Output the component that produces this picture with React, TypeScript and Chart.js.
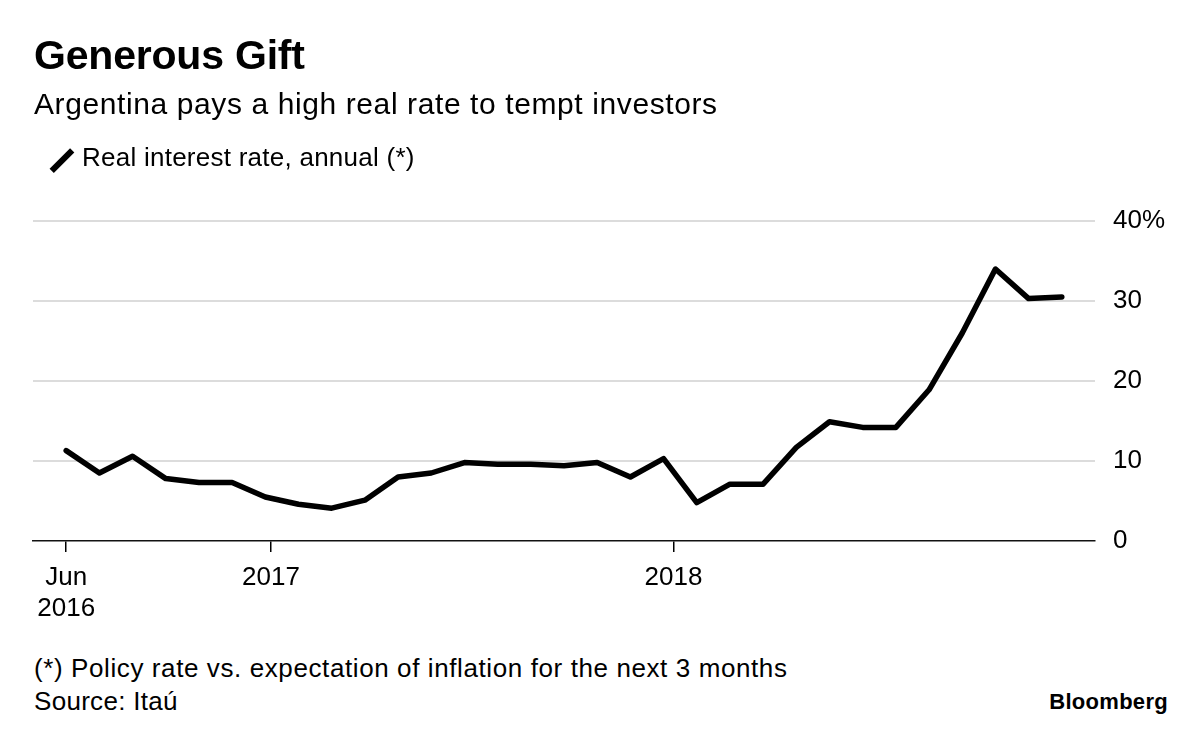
import React, { useEffect, useRef } from "react";
import { Chart, registerables } from "chart.js";

Chart.register(...registerables);

// Monthly observations, Jun 2016 – Dec 2018
const months = [
  "2016-06", "2016-07", "2016-08", "2016-09", "2016-10", "2016-11", "2016-12",
  "2017-01", "2017-02", "2017-03", "2017-04", "2017-05", "2017-06", "2017-07",
  "2017-08", "2017-09", "2017-10", "2017-11", "2017-12", "2018-01", "2018-02",
  "2018-03", "2018-04", "2018-05", "2018-06", "2018-07", "2018-08", "2018-09",
  "2018-10", "2018-11", "2018-12",
];

// Real interest rate, annual (%)
const realRate = [
  11.3, 8.5, 10.6, 7.8, 7.3, 7.3, 5.5, 4.6, 4.1, 5.1, 8.0, 8.5, 9.8, 9.6, 9.6,
  9.4, 9.8, 8.0, 10.3, 4.8, 7.1, 7.1, 11.7, 14.9, 14.2, 14.2, 18.9, 26.0, 34.0,
  30.3, 30.5,
];

// X-axis ticks, in months from the first observation
const xTickPositions = [0, 6.17, 18.3];
const xTickLabels: (string | string[])[] = [["Jun", "2016"], "2017", "2018"];

// Y-axis ticks
const yTicks = [0, 10, 20, 30, 40];
const yTickLabels = ["0", "10", "20", "30", "40%"];

const FONT = "'Liberation Sans', Arial, Helvetica, sans-serif";

function Text(props: {
  x?: number;
  right?: number;
  baseline: number;
  size: number;
  bold?: boolean;
  ls?: number;
  children: React.ReactNode;
}) {
  const { x, right, baseline, size, bold, ls, children } = props;
  const style: React.CSSProperties = {
    position: "absolute",
    top: baseline - 0.8465 * size,
    fontSize: size,
    lineHeight: `${size}px`,
    fontWeight: bold ? 700 : 400,
    letterSpacing: ls ? `${ls}px` : undefined,
    whiteSpace: "nowrap",
    color: "#000",
    fontFamily: FONT,
  };
  if (x !== undefined) style.left = x;
  if (right !== undefined) style.right = right;
  return <div style={style}>{children}</div>;
}

export default function App() {
  const canvasRef = useRef<HTMLCanvasElement | null>(null);

  useEffect(() => {
    if (!canvasRef.current) return;
    const chart = new Chart(canvasRef.current, {
      type: "line",
      data: {
        labels: months,
        datasets: [
          {
            label: "Real interest rate, annual (*)",
            data: realRate.map((y, i) => ({ x: i, y })),
            borderColor: "#000",
            borderWidth: 5.5,
            borderJoinStyle: "round",
            borderCapStyle: "round",
            pointRadius: 0,
            tension: 0,
            fill: false,
          },
        ],
      },
      options: {
        animation: false,
        responsive: true,
        maintainAspectRatio: false,
        layout: { padding: { left: 33, top: 221, right: 0, bottom: 9 } },
        plugins: {
          legend: { display: false },
          title: { display: false },
          tooltip: { enabled: false },
        },
        scales: {
          x: {
            type: "linear",
            min: -1,
            max: 31,
            afterBuildTicks: (scale: any) => {
              scale.ticks = xTickPositions.map((v) => ({ value: v }));
            },
            afterFit: (scale: any) => {
              scale.height = 90;
            },
            grid: {
              display: true,
              drawOnChartArea: false,
              drawTicks: true,
              tickLength: 11,
              color: "#000",
              lineWidth: 1.5,
            },
            border: { display: true, color: "#111", width: 1.5 },
            ticks: {
              autoSkip: false,
              maxRotation: 0,
              padding: 10,
              color: "#000",
              font: { family: FONT, size: 26, lineHeight: 31 / 26 },
              callback: (value: any) => {
                const idx = xTickPositions.indexOf(value);
                return idx >= 0 ? xTickLabels[idx] : "";
              },
            },
          },
          y: {
            position: "right",
            min: 0,
            max: 40,
            afterBuildTicks: (scale: any) => {
              scale.ticks = yTicks.map((v) => ({ value: v }));
            },
            afterFit: (scale: any) => {
              scale.width = 105;
            },
            grid: {
              drawTicks: false,
              color: (ctx: any) =>
                ctx.tick && ctx.tick.value === 0 ? "rgba(0,0,0,0)" : "#dcdcdc",
              lineWidth: 2,
            },
            border: { display: false },
            ticks: {
              padding: 18,
              color: "#000",
              font: { family: FONT, size: 26 },
              callback: (value: any) => {
                const idx = yTicks.indexOf(value);
                return idx >= 0 ? yTickLabels[idx] : "";
              },
            },
          },
        },
      },
    });
    return () => chart.destroy();
  }, []);

  return (
    <div
      style={{
        position: "absolute",
        left: 0,
        top: 0,
        width: 1200,
        height: 731,
        background: "#fff",
        fontFamily: FONT,
        overflow: "hidden",
      }}
    >
      <div style={{ position: "absolute", left: 0, top: 0, width: 1200, height: 640 }}>
        <canvas ref={canvasRef} />
      </div>

      <Text x={34} baseline={70} size={41} bold ls={-0.2}>
        Generous Gift
      </Text>
      <Text x={34} baseline={114} size={30} ls={0.6}>
        Argentina pays a high real rate to tempt investors
      </Text>

      <div
        style={{
          position: "absolute",
          left: 59,
          top: 146,
          width: 5.5,
          height: 29,
          background: "#000",
          transform: "rotate(45deg)",
        }}
      />
      <Text x={82} baseline={166} size={26} ls={0.25}>
        Real interest rate, annual (*)
      </Text>

      <Text x={34} baseline={677} size={26} ls={0.6}>
        (*) Policy rate vs. expectation of inflation for the next 3 months
      </Text>
      <Text x={34} baseline={710} size={26} ls={0.3}>
        Source: Itaú
      </Text>
      <Text right={32} baseline={710} size={22} bold ls={0.3}>
        Bloomberg
      </Text>
    </div>
  );
}
